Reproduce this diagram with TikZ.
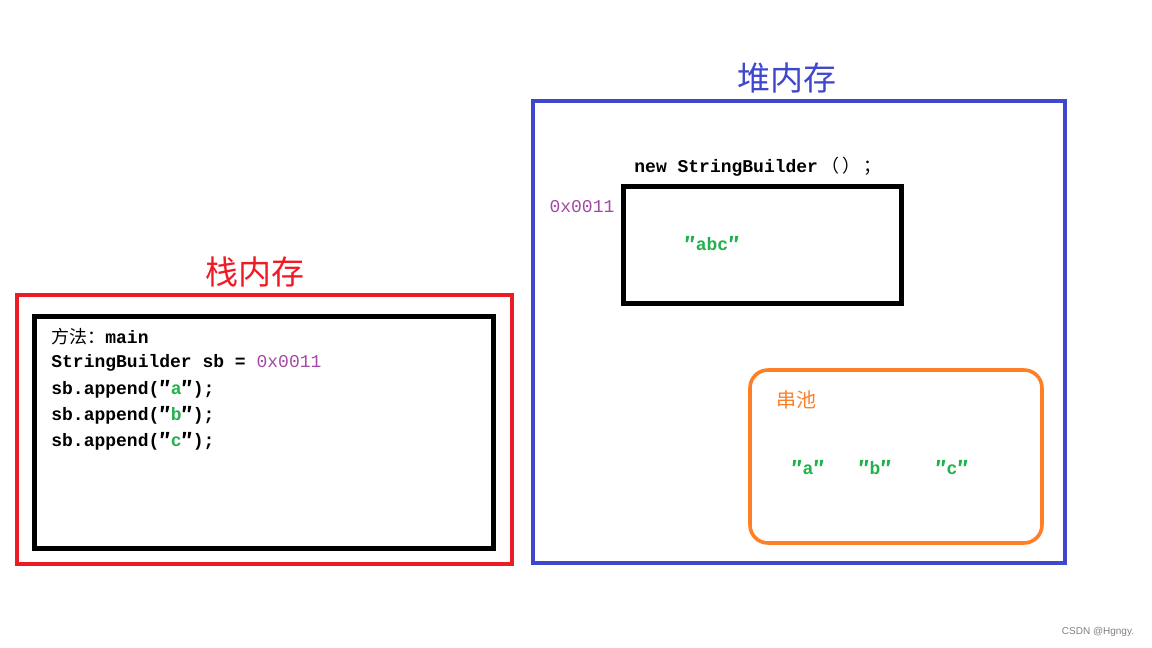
\documentclass[tikz,border=0pt]{standalone}
\usepackage{fontspec}
\setmonofont{Liberation Mono}
\setsansfont{Liberation Sans}
\newfontfamily\cjk{Noto Sans CJK SC}
\usepackage{xcolor}
\definecolor{stackred}{RGB}{237,28,36}
\definecolor{heapblue}{RGB}{63,72,204}
\definecolor{poolorange}{RGB}{255,127,39}
\definecolor{strgreen}{RGB}{34,177,76}
\definecolor{addrpurple}{RGB}{163,73,164}
\newcommand{\qq}{{\cjk ″}}
\newcommand{\str}[1]{\qq\textcolor{strgreen}{#1}\qq}

\begin{document}
\begin{tikzpicture}[x=0.5pt,y=-0.5pt,
  code/.style={anchor=west, inner sep=0pt,
    font=\ttfamily\bfseries\fontsize{9}{9}\selectfont},
  title/.style={inner sep=0pt, font=\cjk\fontsize{16.5}{16.5}\selectfont},
  strnode/.style={inner sep=0pt, text=strgreen,
    font=\ttfamily\bfseries\fontsize{9}{9}\selectfont},
  addr/.style={inner sep=0pt, text=addrpurple,
    font=\ttfamily\fontsize{9}{9}\selectfont}]
\useasboundingbox (0,0) rectangle (1152,648);
% stack
\draw[stackred, line width=2pt] (17,295) rectangle (512,564);
\draw[black, line width=2.5pt] (34,316) rectangle (493,548);
\node[title, text=stackred] (stacktitle) at (255,272) {栈内存};
\node[code] (l1) at (51,337) {{\cjk\mdseries 方法：}main};
\node[code] (l2) at (51,363) {StringBuilder sb = \textcolor{addrpurple}{\mdseries 0x0011}};
\node[code] (l3) at (51,389) {sb.append(\str{a});};
\node[code] (l4) at (51,415) {sb.append(\str{b});};
\node[code] (l5) at (51,441) {sb.append(\str{c});};
% heap
\draw[heapblue, line width=2pt] (533,101) rectangle (1065,563);
\node[title, text=heapblue] (heaptitle) at (787,78) {堆内存};
\node[code] (newsb) at (634,167) {new StringBuilder{\cjk\mdseries \,（\,）\,；}};
\draw[black, line width=2.5pt] (623,186) rectangle (901,303);
\node[addr] (addr) at (582,207) {0x0011};
\node[strnode] (abc) at (712,244) {\str{abc}};
% pool
\draw[poolorange, line width=1.8pt, rounded corners=9pt] (750,370) rectangle (1042,543);
\node[inner sep=0pt, text=poolorange, font=\cjk\fontsize{10}{10}\selectfont] (pool) at (796,400) {串池};
\node[strnode] (sa) at (808,468) {\str{a}};
\node[strnode] (sb) at (875,468) {\str{b}};
\node[strnode] (sc) at (952,468) {\str{c}};
\node[inner sep=0pt, text=gray, font=\sffamily\fontsize{5}{5}\selectfont] (mark) at (1098,632) {CSDN @Hgngy.};
\end{tikzpicture}
\end{document}
